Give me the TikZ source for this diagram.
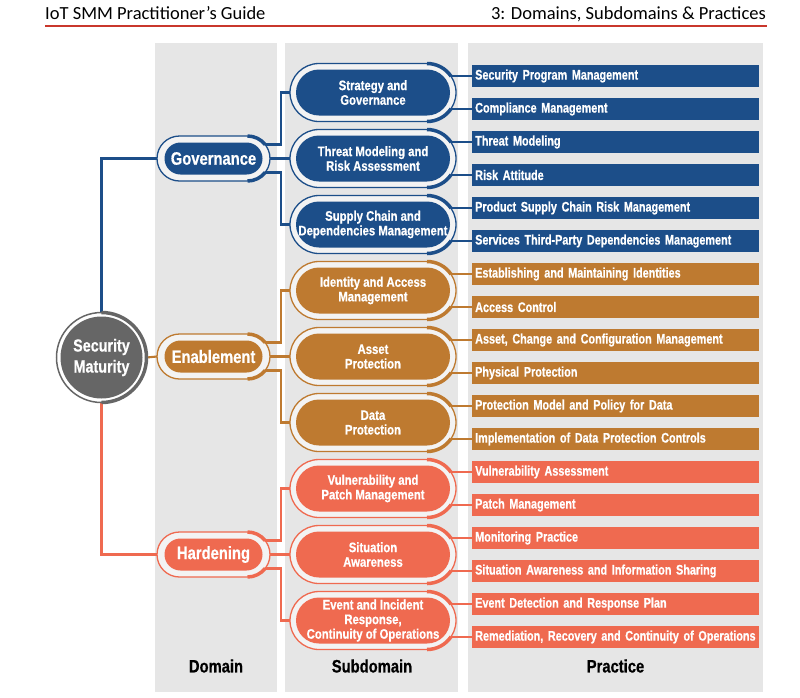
\documentclass[tikz,border=0pt]{standalone}
\usepackage{fontspec}
\setmainfont{Liberation Sans}
\newfontfamily\narrowsans[FakeStretch=0.82, BoldFeatures={FakeBold=0.6}]{Liberation Sans}
\newfontfamily\barsans[FakeStretch=0.78, BoldFeatures={FakeBold=0.6}]{Liberation Sans}
\newfontfamily\headfont{Carlito}
\usetikzlibrary{calc}
\definecolor{cblue}{HTML}{1C4E89}
\definecolor{cbrown}{HTML}{BE7A30}
\definecolor{cred}{HTML}{EF6A50}
\definecolor{cgray}{HTML}{666666}
\definecolor{colbg}{HTML}{E6E6E6}
\definecolor{gapfill}{HTML}{F3F3F3}
\definecolor{hdrred}{HTML}{C9372C}
\pgfdeclarelayer{bg}
\pgfdeclarelayer{lines}
\pgfsetlayers{bg,lines,main}
\tikzset{
 colbox/.style={fill=colbg, draw=none, minimum height=649pt, inner sep=0pt, anchor=north west},
 prac/.style={fill=#1, text=white, minimum height=22pt, text width=281pt, inner xsep=3pt, inner ysep=0pt, align=left, anchor=west, font=\barsans\bfseries\fontsize{13.9}{15}\selectfont},
 subring/.style={draw=#1, line width=1.3pt, fill=gapfill, minimum width=166pt, minimum height=58pt, rounded corners=29pt, inner sep=0pt, outer sep=0pt},
 subfill/.style={fill=#1, text=white, minimum width=154pt, minimum height=46pt, rounded corners=23pt, inner sep=0pt, align=center, font=\narrowsans\bfseries\fontsize{13.8}{14.6}\selectfont},
 domring/.style={draw=#1, line width=1.3pt, fill=gapfill, minimum width=113pt, minimum height=45pt, rounded corners=22.5pt, inner sep=0pt, outer sep=0pt},
 domfill/.style={fill=#1, text=white, minimum width=98pt, minimum height=32pt, rounded corners=16pt, inner sep=0pt, font=\narrowsans\bfseries\fontsize{18}{20}\selectfont},
 thickarc/.style={draw=#1, line width=3.5pt},
 conn/.style={draw=#1, line width=2.1pt},
 collabel/.style={font=\narrowsans\bfseries\fontsize{18}{20}\selectfont, text=black},
 headtext/.style={font=\headfont\fontsize{18.5}{20}\selectfont, inner sep=0pt, text=black},
}
\newcommand\subdom[4]{%
 \node[subring=#3] (#1r) at (373,#2) {};
 \node[subfill=#3] (#1) at (373,#2) {#4};
 \draw[thickarc=#3] ([xshift=-29pt]#1r.east) ++(90:29pt) arc[start angle=90, end angle=34, radius=29pt];
 \draw[thickarc=#3] ([xshift=-29pt]#1r.east) ++(-90:29pt) arc[start angle=-90, end angle=-34, radius=29pt];
}
\newcommand\domain[4]{%
 \node[domring=#3] (#1r) at (213.5,#2) {};
 \node[domfill=#3] (#1) at (213.5,#2) {#4};
 \draw[thickarc=#3] ([xshift=-22.5pt]#1r.east) ++(90:22.5pt) arc[start angle=90, end angle=38, radius=22.5pt];
 \draw[thickarc=#3] ([xshift=-22.5pt]#1r.east) ++(-90:22.5pt) arc[start angle=-90, end angle=-38, radius=22.5pt];
}
\newcommand\practice[4]{\node[prac=#3] (#1) at (472,#2) {\mbox{#4}};}
\begin{document}
\begin{tikzpicture}[x=1pt,y=-1pt]
\useasboundingbox (0,0) rectangle (800,697);
% header
\node[headtext, anchor=base west] (h1) at (45,19) {IoT SMM Practitioner’s Guide};
\node[headtext, anchor=base east] (h2) at (766,19) {3: Domains, Subdomains \& Practices};
\coordinate (hl) at (45,25.5);
\coordinate (hr) at (767,25.5);
\draw[hdrred, line width=2pt] (hl) -- (hr);
% columns
\begin{pgfonlayer}{bg}
\node[colbox, minimum width=122pt] (cold) at (155,43) {};
\node[colbox, minimum width=173pt] (cols) at (285,43) {};
\node[colbox, minimum width=295pt] (colp) at (468,43) {};
\end{pgfonlayer}
\node[collabel] (ld) at (216,666) {Domain};
\node[collabel] (ls) at (372,666) {Subdomain};
\node[collabel] (lp) at (615.5,666) {Practice};
% root
\node[circle, draw=cgray, line width=1.5pt, fill=white, minimum size=90pt, inner sep=0pt, outer sep=0pt] (rootr) at (101.5,357.5) {};
\node[circle, fill=cgray, minimum size=82pt, inner sep=0pt, text=white, align=center, font=\narrowsans\bfseries\fontsize{17.5}{21}\selectfont] (root) at (101.5,357.5) {Security\\Maturity};
\draw[thickarc=cgray] (rootr.north) arc[start angle=90, end angle=-90, radius=45pt];
% domains
\domain{gov}{158.5}{cblue}{Governance}
\domain{ena}{356.5}{cbrown}{Enablement}
\domain{har}{554.5}{cred}{Hardening}
% subdomains
\subdom{s1}{92.5}{cblue}{Strategy and\\Governance}
\subdom{s2}{158.5}{cblue}{Threat Modeling and\\Risk Assessment}
\subdom{s3}{224.5}{cblue}{Supply Chain and\\Dependencies Management}
\subdom{s4}{290.5}{cbrown}{Identity and Access\\Management}
\subdom{s5}{356.5}{cbrown}{Asset\\Protection}
\subdom{s6}{422.5}{cbrown}{Data\\Protection}
\subdom{s7}{488.5}{cred}{Vulnerability and\\Patch Management}
\subdom{s8}{554.5}{cred}{Situation\\Awareness}
\subdom{s9}{620.5}{cred}{Event and Incident\\Response,\\Continuity of Operations}
% practices
\practice{p1}{76}{cblue}{Security Program Management}
\practice{p2}{109}{cblue}{Compliance Management}
\practice{p3}{142}{cblue}{Threat Modeling}
\practice{p4}{175}{cblue}{Risk Attitude}
\practice{p5}{208}{cblue}{Product Supply Chain Risk Management}
\practice{p6}{241}{cblue}{Services Third-Party Dependencies Management}
\practice{p7}{274}{cbrown}{Establishing and Maintaining Identities}
\practice{p8}{307}{cbrown}{Access Control}
\practice{p9}{340}{cbrown}{Asset, Change and Configuration Management}
\practice{p10}{373}{cbrown}{Physical Protection}
\practice{p11}{406}{cbrown}{Protection Model and Policy for Data}
\practice{p12}{439}{cbrown}{Implementation of Data Protection Controls}
\practice{p13}{472}{cred}{Vulnerability Assessment}
\practice{p14}{505}{cred}{Patch Management}
\practice{p15}{538}{cred}{Monitoring Practice}
\practice{p16}{571}{cred}{Situation Awareness and Information Sharing}
\practice{p17}{604}{cred}{Event Detection and Response Plan}
\practice{p18}{637}{cred}{Remediation, Recovery and Continuity of Operations}
% connectors
\begin{pgfonlayer}{lines}
\draw[conn=cblue] (rootr.north) |- (govr.west);
\draw[conn=cbrown] (rootr.east) -- (enar.west);
\draw[conn=cred] (rootr.south) |- (harr.west);
\draw[conn=cblue] ([yshift=14pt]govr.center) -| ([xshift=-9pt]s1r.west) -- (s1r.west);
\draw[conn=cblue] (govr.center) -- (s2r.west);
\draw[conn=cblue] ([yshift=-14pt]govr.center) -| ([xshift=-9pt]s3r.west) -- (s3r.west);
\draw[conn=cbrown] ([yshift=14pt]enar.center) -| ([xshift=-9pt]s4r.west) -- (s4r.west);
\draw[conn=cbrown] (enar.center) -- (s5r.west);
\draw[conn=cbrown] ([yshift=-14pt]enar.center) -| ([xshift=-9pt]s6r.west) -- (s6r.west);
\draw[conn=cred] ([yshift=14pt]harr.center) -| ([xshift=-9pt]s7r.west) -- (s7r.west);
\draw[conn=cred] (harr.center) -- (s8r.west);
\draw[conn=cred] ([yshift=-14pt]harr.center) -| ([xshift=-9pt]s9r.west) -- (s9r.west);
\draw[conn=cblue] (s1r.center |- p1.west) -- (p1.west);
\draw[conn=cblue] (s1r.center |- p2.west) -- (p2.west);
\draw[conn=cblue] (s2r.center |- p3.west) -- (p3.west);
\draw[conn=cblue] (s2r.center |- p4.west) -- (p4.west);
\draw[conn=cblue] (s3r.center |- p5.west) -- (p5.west);
\draw[conn=cblue] (s3r.center |- p6.west) -- (p6.west);
\draw[conn=cbrown] (s4r.center |- p7.west) -- (p7.west);
\draw[conn=cbrown] (s4r.center |- p8.west) -- (p8.west);
\draw[conn=cbrown] (s5r.center |- p9.west) -- (p9.west);
\draw[conn=cbrown] (s5r.center |- p10.west) -- (p10.west);
\draw[conn=cbrown] (s6r.center |- p11.west) -- (p11.west);
\draw[conn=cbrown] (s6r.center |- p12.west) -- (p12.west);
\draw[conn=cred] (s7r.center |- p13.west) -- (p13.west);
\draw[conn=cred] (s7r.center |- p14.west) -- (p14.west);
\draw[conn=cred] (s8r.center |- p15.west) -- (p15.west);
\draw[conn=cred] (s8r.center |- p16.west) -- (p16.west);
\draw[conn=cred] (s9r.center |- p17.west) -- (p17.west);
\draw[conn=cred] (s9r.center |- p18.west) -- (p18.west);
\end{pgfonlayer}
\end{tikzpicture}
\end{document}
